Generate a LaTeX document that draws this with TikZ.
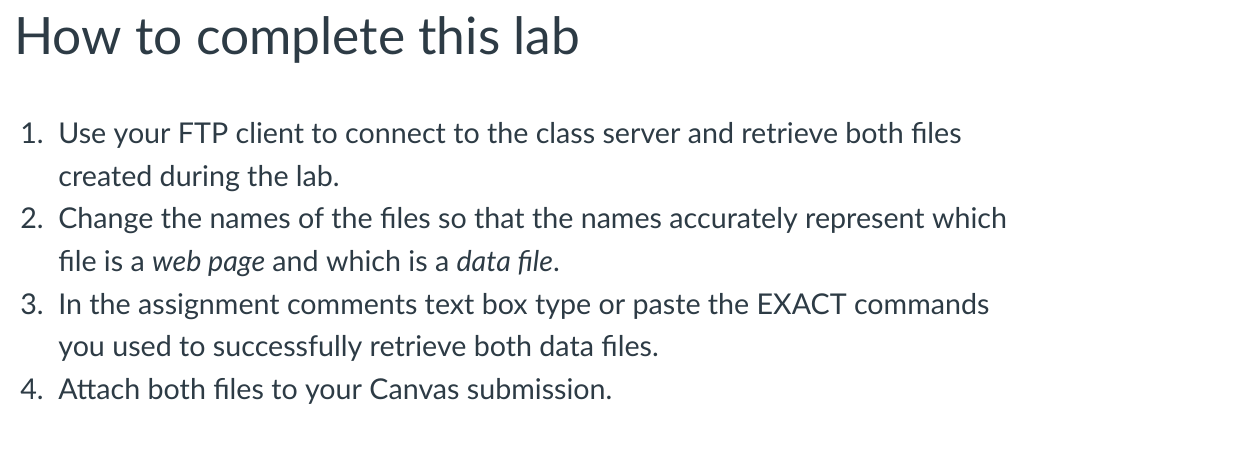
\documentclass[tikz,border=0pt]{standalone}
\usepackage{fontspec}
\setmainfont{Lato}
\definecolor{canvasgray}{HTML}{2D3B45}
\begin{document}
\begin{tikzpicture}[x=0.02cm,y=-0.02cm,
  body/.style={anchor=base west,inner sep=0pt,text=canvasgray,font=\fontsize{16.3pt}{19pt}\selectfont},
  title/.style={anchor=base west,inner sep=0pt,text=canvasgray,font=\fontsize{29.3pt}{34pt}\selectfont}]
\useasboundingbox (0,0) rectangle (1234,472);
%Heading
\node[title] (head) at (14,55) {How to complete this lab};
%Numbered steps
\node[body] (n1) at (20,144) {1.};
\node[body] (s1a) at (58,144) {Use your FTP client to connect to the class server and retrieve both files};
\node[body] (s1b) at (58,187) {created during the lab.};
\node[body] (n2) at (20,229) {2.};
\node[body] (s2a) at (58,229) {Change the names of the files so that the names accurately represent which};
\node[body] (s2b) at (58,272) {file is a \textit{web page} and which is a \textit{data file}.};
\node[body] (n3) at (20,315) {3.};
\node[body] (s3a) at (58,315) {In the assignment comments text box type or paste the EXACT commands};
\node[body] (s3b) at (58,357) {you used to successfully retrieve both data files.};
\node[body] (n4) at (20,400) {4.};
\node[body] (s4a) at (58,400) {Attach both files to your Canvas submission.};
\end{tikzpicture}
\end{document}
